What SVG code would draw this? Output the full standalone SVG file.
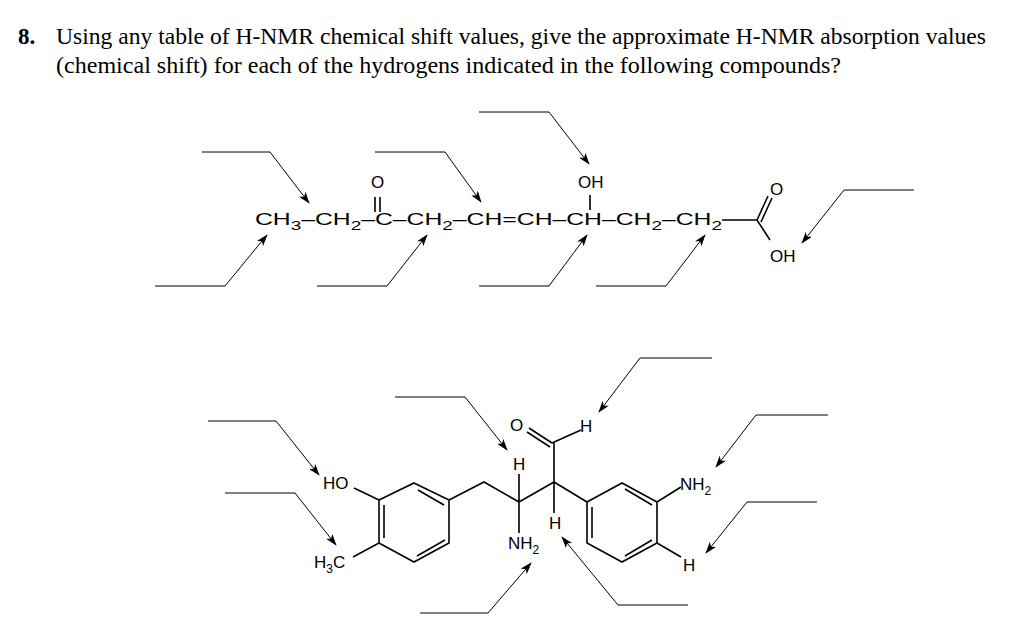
<svg xmlns="http://www.w3.org/2000/svg" width="1024" height="643" viewBox="0 0 1024 643">
<style>
.q{font-family:'Liberation Serif','Times New Roman',serif;font-size:23px;fill:#000}
.c{font-family:'Liberation Sans',Arial,sans-serif;font-size:17px;fill:#000}
.b{stroke:#000;stroke-width:1.6;fill:none}
.a{stroke:#000;stroke-width:1;fill:none;marker-end:url(#ah)}
</style>
<defs><marker id="ah" viewBox="0 0 12 8" refX="11" refY="4" markerWidth="12" markerHeight="8" markerUnits="userSpaceOnUse" orient="auto"><path d="M0,0 L12,4 L0,8 L3,4 Z" fill="#000"/></marker></defs>
<rect width="1024" height="643" fill="#fff"/>
<text class="q" x="18" y="44" font-weight="bold">8.</text>
<text class="q" x="56" y="44" textLength="930" lengthAdjust="spacingAndGlyphs">Using any table of H-NMR chemical shift values, give the approximate H-NMR absorption values</text>
<text class="q" x="56" y="73" textLength="785" lengthAdjust="spacingAndGlyphs">(chemical shift) for each of the hydrogens indicated in the following compounds?</text>
<g id="mol1">
<text class="c" x="255" y="225" font-size="18" textLength="467" lengthAdjust="spacingAndGlyphs">CH<tspan font-size="13" dy="5">3</tspan><tspan dy="-5">–CH</tspan><tspan font-size="13" dy="5">2</tspan><tspan dy="-5">–C–CH</tspan><tspan font-size="13" dy="5">2</tspan><tspan dy="-5">–CH=CH–CH–CH</tspan><tspan font-size="13" dy="5">2</tspan><tspan dy="-5">–CH</tspan><tspan font-size="13" dy="5">2</tspan></text>
<text class="c" x="371" y="188">O</text>
<path class="b" d="M375,197V212M380,197V212M590,195V210M722,220H757L770,240M757,220L768,196M761,222L772,198"/>
<text class="c" x="578" y="188">OH</text>
<text class="c" x="770" y="195">O</text>
<text class="c" x="770" y="262">OH</text>
</g>
<g id="mol2">
<path class="b" d="M414,483L449,500V543L414,562L379,543V500Z M418,490L444,505 M384,505V538 M417,556L445,540 M379,500L354,488 M379,543L353,557 M449,500L484,482L519,502L554,482 M519,502V474 M519,502V533 M554,482V443 M554,482V513 M552,443L529,428 M550,447L527,432 M552,443L581,430 M554,482L587,502 M587,502L622,483L657,502V543L622,562L587,543Z M592,507V538 M625,489L652,505 M625,556L652,540 M657,502L681,487 M657,543L681,557"/>
<text class="c" x="323" y="489">HO</text>
<text class="c" x="314" y="568">H<tspan font-size="12" dy="5">3</tspan><tspan dy="-5">C</tspan></text>
<text class="c" x="513" y="470">H</text>
<text class="c" x="508" y="549">NH<tspan font-size="12" dy="5">2</tspan></text>
<text class="c" x="510" y="431">O</text>
<text class="c" x="580" y="432">H</text>
<text class="c" x="549" y="529">H</text>
<text class="c" x="680" y="490">NH<tspan font-size="12" dy="5">2</tspan></text>
<text class="c" x="683" y="571">H</text>
</g>
<g id="connectors">
<path class="a" d="M202,152H270L309,203"/>
<path class="a" d="M375,152H445L481,202"/>
<path class="a" d="M479,112H549L589,164"/>
<path class="a" d="M155,286H225L267,235"/>
<path class="a" d="M317,286H387L427,235"/>
<path class="a" d="M479,286H549L587,235"/>
<path class="a" d="M596,286H666L705,235"/>
<path class="a" d="M914,190H844L802,243"/>
<path class="a" d="M208,421H276L319,475"/>
<path class="a" d="M225,493H295L336,545"/>
<path class="a" d="M395,397H465L507,450"/>
<path class="a" d="M712,358H640L599,412"/>
<path class="a" d="M828,415H756L716,467"/>
<path class="a" d="M817,502H747L706,553"/>
<path class="a" d="M420,613H488L531,563"/>
<path class="a" d="M688,605H618L562,537"/>
</g>
</svg>
